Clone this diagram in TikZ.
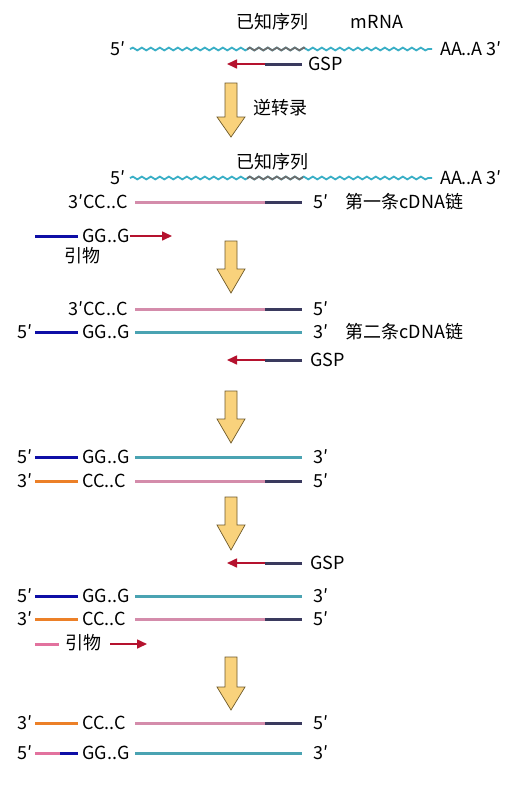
\documentclass[tikz,border=0pt]{standalone}
\usepackage{fontspec}
\setmainfont{Noto Sans CJK SC}
\usetikzlibrary{positioning}
\usetikzlibrary{arrows.meta}
\usetikzlibrary{decorations.pathmorphing}
\definecolor{rnablue}{HTML}{3AAFC6}
\definecolor{knowngray}{HTML}{6E6E6E}
\definecolor{cdnateal}{HTML}{4AA3B2}
\definecolor{cdnapink}{HTML}{D48CAB}
\definecolor{gspnavy}{HTML}{3A3A5E}
\definecolor{primblue}{HTML}{0E0EA6}
\definecolor{primorange}{HTML}{EC8028}
\definecolor{primpink}{HTML}{E2729E}
\definecolor{extred}{HTML}{B5122E}
\definecolor{stepfill}{HTML}{F9D27C}
\definecolor{stepedge}{HTML}{6F5A2A}
\tikzset{strand/.style = {line width=3pt}}
\tikzset{wave/.style = {line width=1.8pt, decorate,
                        decoration={snake, segment length=9pt, amplitude=1.4pt}}}
\tikzset{ext/.style = {draw=extred, line width=1.6pt,
                       -{Triangle[length=10pt,width=9pt]}}}
\tikzset{txt/.style = {inner sep=0, font=\fontsize{18}{21}\selectfont}}
\tikzset{stepbox/.style = {fill=stepfill, draw=stepedge, line width=0.7pt}}

\begin{document}
\begin{tikzpicture}[x=1pt, y=-1pt]
    \useasboundingbox[fill=white] (0,0) rectangle (532,785);
    % mRNA
    \coordinate (m5) at (130,49);
    \coordinate (m3) at (432,49);
    \draw[wave, rnablue] (m5) -- (m3);
    \begin{scope}
        \clip (247,35) rectangle (305,63);
        \draw[wave, knowngray] (m5) -- (m3);
    \end{scope}
    \node[txt, left=4pt of m5] (m5t) {5′};
    \node[txt, right=8pt of m3] (m3t) {AA..A 3′};
    \node[txt] (known1) at (272,22) {已知序列};
    \node[txt] (mrna) at (377,22) {mRNA};
    % block arrows
    \foreach \t/\h/\b in {83/117/137, 241/269/293, 391/419/443,
                          497/525/550, 657/687/710} {
        \draw[stepbox] (225,\t) -- (237,\t) -- (237,\h) -- (245,\h)
            -- (231,\b) -- (217,\h) -- (225,\h) -- cycle;
    }
    \node[txt] (rt) at (280,108) {逆转录};
    % GSP
    \foreach \y/\n/\d in {64/a/6pt, 360/b/8pt, 563/c/8pt} {
        \coordinate (gsp\n) at (302,\y);
        \coordinate (gspk\n) at (265,\y);
        \coordinate (gspt\n) at (227,\y);
        \draw[strand, gspnavy] (gsp\n) -- (gspk\n);
        \draw[ext] (gspk\n) -- (gspt\n);
        \node[txt, right=\d of gsp\n] (gspl\n) {GSP};
    }
    % mRNA with first strand
    \coordinate (r5) at (130,178);
    \coordinate (r3) at (432,178);
    \draw[wave, rnablue] (r5) -- (r3);
    \begin{scope}
        \clip (247,164) rectangle (303,192);
        \draw[wave, knowngray] (r5) -- (r3);
    \end{scope}
    \node[txt, left=4pt of r5] (r5t) {5′};
    \node[txt, right=8pt of r3] (r3t) {AA..A 3′};
    \node[txt] (known2) at (272,162) {已知序列};
    % first cDNA strand
    \foreach \y/\n in {202/a, 309/b} {
        \coordinate (f\n) at (135,\y);
        \coordinate (fk\n) at (265,\y);
        \coordinate (fe\n) at (302,\y);
        \draw[strand, cdnapink] (f\n) -- (fk\n);
        \draw[strand, gspnavy] (fk\n) -- (fe\n);
        \node[txt, left=7pt of f\n] (fl\n) {3′CC..C};
        \node[txt, right=11pt of fe\n] (fr\n) {5′};
    }
    \node[txt, right=17pt of fra] (first) {第一条cDNA链};
    % oligo primer
    \coordinate (pa) at (35,236);
    \coordinate (pb) at (78,236);
    \coordinate (pc) at (172,236);
    \draw[strand, primblue] (pa) -- (pb);
    \node[txt, right=4pt of pb] (pg) {GG..G};
    \draw[ext] (pg.east) -- (pc);
    \node[txt] (pl) at (82,256) {引物};
    % second strand
    \foreach \y/\n in {332/a, 457/b, 596/c} {
        \coordinate (sa\n) at (35,\y);
        \coordinate (sb\n) at (78,\y);
        \coordinate (sc\n) at (135,\y);
        \coordinate (sd\n) at (302,\y);
        \draw[strand, primblue] (sa\n) -- (sb\n);
        \draw[strand, cdnateal] (sc\n) -- (sd\n);
        \node[txt, left=2pt of sa\n] (sl\n) {5′};
        \node[txt, right=4pt of sb\n] (sg\n) {GG..G};
        \node[txt, right=11pt of sd\n] (sr\n) {3′};
    }
    \node[txt, right=17pt of sra] (second) {第二条cDNA链};
    % anchored first strand
    \foreach \y/\n in {481/a, 619/b, 723/c} {
        \coordinate (oa\n) at (35,\y);
        \coordinate (ob\n) at (78,\y);
        \coordinate (oc\n) at (135,\y);
        \coordinate (ok\n) at (265,\y);
        \coordinate (od\n) at (302,\y);
        \draw[strand, primorange] (oa\n) -- (ob\n);
        \draw[strand, cdnapink] (oc\n) -- (ok\n);
        \draw[strand, gspnavy] (ok\n) -- (od\n);
        \node[txt, left=2pt of oa\n] (ol\n) {3′};
        \node[txt, right=4pt of ob\n] (og\n) {CC..C};
        \node[txt, right=11pt of od\n] (or\n) {5′};
    }
    % anchor primer
    \coordinate (qa) at (35,644);
    \coordinate (qb) at (59,644);
    \coordinate (qc) at (110,644);
    \coordinate (qd) at (147,644);
    \draw[strand, primpink] (qa) -- (qb);
    \node[txt] (ql) at (83,643) {引物};
    \draw[ext] (qc) -- (qd);
    % final product
    \coordinate (ea) at (35,753);
    \coordinate (eb) at (60,753);
    \coordinate (ec) at (78,753);
    \coordinate (ed) at (135,753);
    \coordinate (ee) at (302,753);
    \draw[strand, primpink] (ea) -- (eb);
    \draw[strand, primblue] (eb) -- (ec);
    \draw[strand, cdnateal] (ed) -- (ee);
    \node[txt, left=2pt of ea] (el) {5′};
    \node[txt, right=4pt of ec] (eg) {GG..G};
    \node[txt, right=11pt of ee] (er) {3′};
\end{tikzpicture}
\end{document}
